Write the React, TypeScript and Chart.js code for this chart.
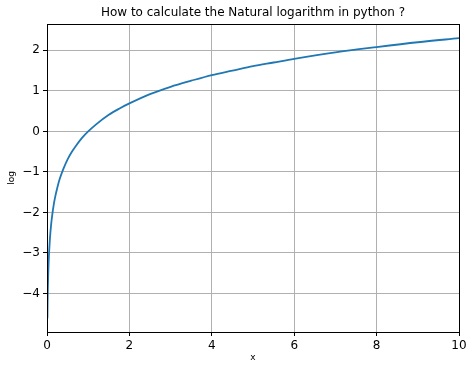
import React, { useEffect, useRef } from "react";
import { Chart, registerables } from "chart.js";

Chart.register(...registerables);

const titleText = "How to calculate the Natural logarithm in python ?";
const xLabel = "x";
const yLabel = "log";
const xValues = [0.01, 0.015, 0.02, 0.03, 0.04, 0.05, 0.07, 0.1, 0.13, 0.17, 0.2, 0.25, 0.3, 0.4, 0.5, 0.6, 0.7, 0.85, 1, 1.2, 1.5, 1.75, 2, 2.5, 3, 3.5, 4, 4.5, 5, 5.5, 6, 7, 8, 9, 10];
const yValues = [-4.61, -4.2, -3.91, -3.51, -3.22, -3.0, -2.66, -2.3, -2.04, -1.77, -1.61, -1.39, -1.2, -0.92, -0.69, -0.51, -0.36, -0.16, 0, 0.18, 0.41, 0.56, 0.69, 0.92, 1.1, 1.25, 1.39, 1.5, 1.61, 1.7, 1.79, 1.95, 2.08, 2.2, 2.3];
const xTicks = [0, 2, 4, 6, 8, 10];
const yTicks = [-4, -3, -2, -1, 0, 1, 2];

const fmt = (v: number) => (v < 0 ? "\u2212" + Math.abs(v) : String(v));

const frame = {
  id: "frame",
  afterDraw(chart: any) {
    const { ctx, chartArea: a } = chart;
    ctx.save();
    ctx.strokeStyle = "#000";
    ctx.lineWidth = 1;
    ctx.strokeRect(Math.round(a.left) + 0.5, Math.round(a.top) + 0.5, Math.round(a.right - a.left), Math.round(a.bottom - a.top));
    ctx.restore();
  },
};

export default function App() {
  const ref = useRef<HTMLCanvasElement>(null);
  useEffect(() => {
    document.body.style.margin = "0";
    Chart.defaults.font.family = "'DejaVu Sans', sans-serif";
    Chart.defaults.color = "#000";
    const chart = new Chart(ref.current!, {
      type: "scatter",
      data: {
        datasets: [
          {
            data: xValues.map((x, i) => ({ x, y: yValues[i] })),
            showLine: true,
            borderColor: "#1f77b4",
            borderWidth: 1.8,
            pointRadius: 0,
            cubicInterpolationMode: "monotone",
          },
        ],
      },
      options: {
        animation: false,
        responsive: false,
        layout: { padding: { left: 0, right: 15, top: 0, bottom: 0 } },
        plugins: {
          legend: { display: false },
          tooltip: { enabled: false },
          title: {
            display: true,
            fullSize: false,
            text: titleText,
            color: "#000",
            font: { size: 12, weight: "normal" },
            padding: { top: 6, bottom: 3.6 },
          },
        },
        scales: {
          x: {
            type: "linear",
            min: 0,
            max: 10,
            afterBuildTicks: (s: any) => {
              s.ticks = xTicks.map((v) => ({ value: v }));
            },
            afterFit: (s: any) => {
              s.height = 40;
            },
            ticks: { font: { size: 12 }, color: "#000", padding: 3, callback: (v: any) => fmt(Number(v)), maxRotation: 0 },
            grid: { color: "#b0b0b0", tickColor: "#000", tickLength: 4, lineWidth: 1 },
            border: { color: "#000", width: 1 },
            title: { display: true, text: xLabel, font: { size: 9 }, color: "#000", padding: { top: 0, bottom: 9 } },
          },
          y: {
            type: "linear",
            min: -4.95,
            max: 2.65,
            afterBuildTicks: (s: any) => {
              s.ticks = yTicks.map((v) => ({ value: v }));
            },
            afterFit: (s: any) => {
              s.width = 47;
            },
            ticks: { font: { size: 12 }, color: "#000", padding: 3, callback: (v: any) => fmt(Number(v)) },
            grid: { color: "#b0b0b0", tickColor: "#000", tickLength: 4, lineWidth: 1 },
            border: { color: "#000", width: 1 },
            title: { display: true, text: yLabel, font: { size: 9 }, color: "#000", padding: { top: 6, bottom: 0 } },
          },
        },
      },
      plugins: [frame],
    } as any);
    return () => chart.destroy();
  }, []);
  return <canvas ref={ref} width={474} height={372} style={{ display: "block" }} />;
}
